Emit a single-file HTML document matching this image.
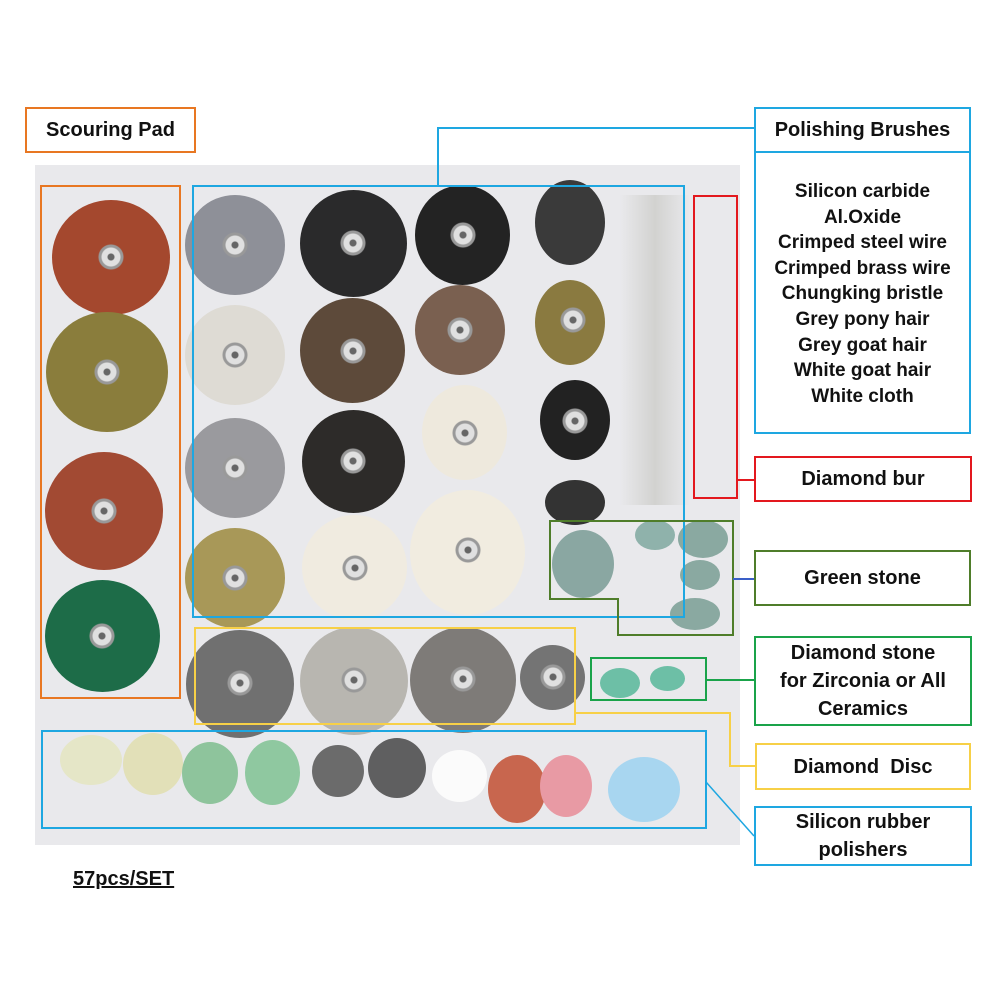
<!DOCTYPE html><html><head><style>
body{margin:0;width:1000px;height:1000px;background:#fff;position:relative;overflow:hidden;font-family:"Liberation Sans",sans-serif}
div{position:absolute;box-sizing:border-box}
.l{background:#fff;font-weight:bold;color:#111;font-size:20px;text-align:center;display:flex;align-items:center;justify-content:center;line-height:28px}
.c{border-radius:50%}
.s{border-radius:50%;width:26px;height:26px;background:radial-gradient(circle,#666 0 3px,#e0e0e0 4px 9px,#999 10px 12px,transparent 13px)}
</style></head><body>
<div style="left:35px;top:165px;width:705px;height:680px;background:#e9e9ec"></div>
<div class="c" style="left:52px;top:200px;width:118px;height:115px;background:#a4482e"></div>
<div class="c" style="left:46px;top:312px;width:122px;height:120px;background:#8a7d3c"></div>
<div class="c" style="left:45px;top:452px;width:118px;height:118px;background:#a24a33"></div>
<div class="c" style="left:45px;top:580px;width:115px;height:112px;background:#1d6c48"></div>
<div class="c" style="left:185px;top:195px;width:100px;height:100px;background:#8e9098"></div>
<div class="c" style="left:300px;top:190px;width:107px;height:107px;background:#2a2a2b"></div>
<div class="c" style="left:415px;top:185px;width:95px;height:100px;background:#232323"></div>
<div class="c" style="left:185px;top:305px;width:100px;height:100px;background:#dedbd4"></div>
<div class="c" style="left:300px;top:298px;width:105px;height:105px;background:#5d4a3a"></div>
<div class="c" style="left:415px;top:285px;width:90px;height:90px;background:#7a6050"></div>
<div class="c" style="left:185px;top:418px;width:100px;height:100px;background:#9a9a9e"></div>
<div class="c" style="left:302px;top:410px;width:103px;height:103px;background:#2d2b29"></div>
<div class="c" style="left:422px;top:385px;width:85px;height:95px;background:#eee9dd"></div>
<div class="c" style="left:185px;top:528px;width:100px;height:100px;background:#a89858"></div>
<div class="c" style="left:302px;top:515px;width:105px;height:105px;background:#f0ebe0"></div>
<div class="c" style="left:410px;top:490px;width:115px;height:125px;background:#f1ece0"></div>
<div class="c" style="left:535px;top:180px;width:70px;height:85px;background:#3a3a3a"></div>
<div class="c" style="left:535px;top:280px;width:70px;height:85px;background:#8a7a40"></div>
<div class="c" style="left:540px;top:380px;width:70px;height:80px;background:#222"></div>
<div class="c" style="left:545px;top:480px;width:60px;height:45px;background:#333"></div>
<div style="left:620px;top:195px;width:70px;height:310px;background:linear-gradient(90deg,#e9e9ec,#d2d2d0 50%,#e9e9ec)"></div>
<div class="s" style="left:98px;top:244px"></div>
<div class="s" style="left:94px;top:359px"></div>
<div class="s" style="left:91px;top:498px"></div>
<div class="s" style="left:89px;top:623px"></div>
<div class="s" style="left:222px;top:232px"></div>
<div class="s" style="left:340px;top:230px"></div>
<div class="s" style="left:450px;top:222px"></div>
<div class="s" style="left:222px;top:342px"></div>
<div class="s" style="left:340px;top:338px"></div>
<div class="s" style="left:447px;top:317px"></div>
<div class="s" style="left:222px;top:455px"></div>
<div class="s" style="left:340px;top:448px"></div>
<div class="s" style="left:452px;top:420px"></div>
<div class="s" style="left:222px;top:565px"></div>
<div class="s" style="left:342px;top:555px"></div>
<div class="s" style="left:455px;top:537px"></div>
<div class="s" style="left:560px;top:307px"></div>
<div class="s" style="left:562px;top:408px"></div>
<div class="c" style="left:552px;top:530px;width:62px;height:68px;background:#8aa7a2"></div>
<div class="c" style="left:635px;top:520px;width:40px;height:30px;background:#8fb2ab"></div>
<div class="c" style="left:678px;top:520px;width:50px;height:38px;background:#8aa9a1"></div>
<div class="c" style="left:680px;top:560px;width:40px;height:30px;background:#8aa9a1"></div>
<div class="c" style="left:670px;top:598px;width:50px;height:32px;background:#8aa9a1"></div>
<div class="c" style="left:600px;top:668px;width:40px;height:30px;background:#6dbfa6"></div>
<div class="c" style="left:650px;top:666px;width:35px;height:25px;background:#6dbfa6"></div>
<div class="c" style="left:186px;top:630px;width:108px;height:108px;background:#707070"></div>
<div class="c" style="left:300px;top:627px;width:108px;height:108px;background:#b8b6b0"></div>
<div class="c" style="left:410px;top:627px;width:106px;height:106px;background:#7e7b78"></div>
<div class="c" style="left:520px;top:645px;width:65px;height:65px;background:#747474"></div>
<div class="s" style="left:227px;top:670px"></div>
<div class="s" style="left:341px;top:667px"></div>
<div class="s" style="left:450px;top:666px"></div>
<div class="s" style="left:540px;top:664px"></div>
<div class="c" style="left:60px;top:735px;width:62px;height:50px;background:#e5e6c7"></div>
<div class="c" style="left:123px;top:733px;width:60px;height:62px;background:#e2e0b8"></div>
<div class="c" style="left:182px;top:742px;width:56px;height:62px;background:#8ec49c"></div>
<div class="c" style="left:245px;top:740px;width:55px;height:65px;background:#8fc8a0"></div>
<div class="c" style="left:312px;top:745px;width:52px;height:52px;background:#6b6b6b"></div>
<div class="c" style="left:368px;top:738px;width:58px;height:60px;background:#5f5f60"></div>
<div class="c" style="left:432px;top:750px;width:55px;height:52px;background:#fbfbfb"></div>
<div class="c" style="left:488px;top:755px;width:58px;height:68px;background:#c8664e"></div>
<div class="c" style="left:540px;top:755px;width:52px;height:62px;background:#e89aa4"></div>
<div class="c" style="left:608px;top:757px;width:72px;height:65px;background:#a8d6f0"></div>
<div style="left:40px;top:185px;width:141px;height:514px;border:2px solid #e87722"></div>
<div style="left:192px;top:185px;width:493px;height:433px;border:2px solid #1ea7e1"></div>
<div style="left:693px;top:195px;width:45px;height:304px;border:2px solid #e3181e"></div>
<div style="left:549px;top:520px;width:185px;height:80px;border:2px solid #4f7d2a;border-bottom:none"></div>
<div style="left:549px;top:598px;width:70px;height:2px;background:#4f7d2a"></div>
<div style="left:617px;top:598px;width:117px;height:38px;border:2px solid #4f7d2a;border-top:none"></div>
<div style="left:590px;top:657px;width:117px;height:44px;border:2px solid #1aa34a"></div>
<div style="left:194px;top:627px;width:382px;height:98px;border:2px solid #f7d047"></div>
<div style="left:41px;top:730px;width:666px;height:99px;border:2px solid #1ea7e1"></div>
<div style="left:437px;top:128px;width:2px;height:58px;background:#1ea7e1"></div>
<div style="left:437px;top:127px;width:318px;height:2px;background:#1ea7e1"></div>
<div style="left:737px;top:479px;width:18px;height:2px;background:#e3181e"></div>
<div style="left:733px;top:578px;width:22px;height:2px;background:#3a5fc8"></div>
<div style="left:706px;top:679px;width:49px;height:2px;background:#1aa34a"></div>
<div style="left:575px;top:712px;width:155px;height:2px;background:#f7d047"></div>
<div style="left:729px;top:712px;width:2px;height:54px;background:#f7d047"></div>
<div style="left:729px;top:765px;width:26px;height:2px;background:#f7d047"></div>
<svg style="position:absolute;left:0;top:0" width="1000" height="1000"><line x1="706" y1="782" x2="754" y2="836" stroke="#1ea7e1" stroke-width="1.5"/></svg>
<div class="l" style="left:25px;top:107px;width:171px;height:46px;border:2px solid #e87722">Scouring Pad</div>
<div class="l" style="left:754px;top:107px;width:217px;height:46px;border:2px solid #1ea7e1">Polishing Brushes</div>
<div class="l" style="left:754px;top:151px;width:217px;height:283px;border:2px solid #1ea7e1;font-size:19px;line-height:25.6px;padding-top:26px;align-items:flex-start">Silicon carbide<br>Al.Oxide<br>Crimped steel wire<br>Crimped brass wire<br>Chungking bristle<br>Grey pony hair<br>Grey goat hair<br>White goat hair<br>White cloth</div>
<div class="l" style="left:754px;top:456px;width:218px;height:46px;border:2px solid #e3181e">Diamond bur</div>
<div class="l" style="left:754px;top:550px;width:217px;height:56px;border:2px solid #4f7d2a">Green stone</div>
<div class="l" style="left:754px;top:636px;width:218px;height:90px;border:2px solid #1aa34a">Diamond stone<br>for Zirconia or All<br>Ceramics</div>
<div class="l" style="left:755px;top:743px;width:216px;height:47px;border:2px solid #f7d047">Diamond&nbsp;&nbsp;Disc</div>
<div class="l" style="left:754px;top:806px;width:218px;height:60px;border:2px solid #1ea7e1">Silicon rubber<br>polishers</div>
<div style="left:73px;top:868px;font-weight:bold;font-size:20px;text-decoration:underline;color:#111">57pcs/SET</div>
</body></html>
